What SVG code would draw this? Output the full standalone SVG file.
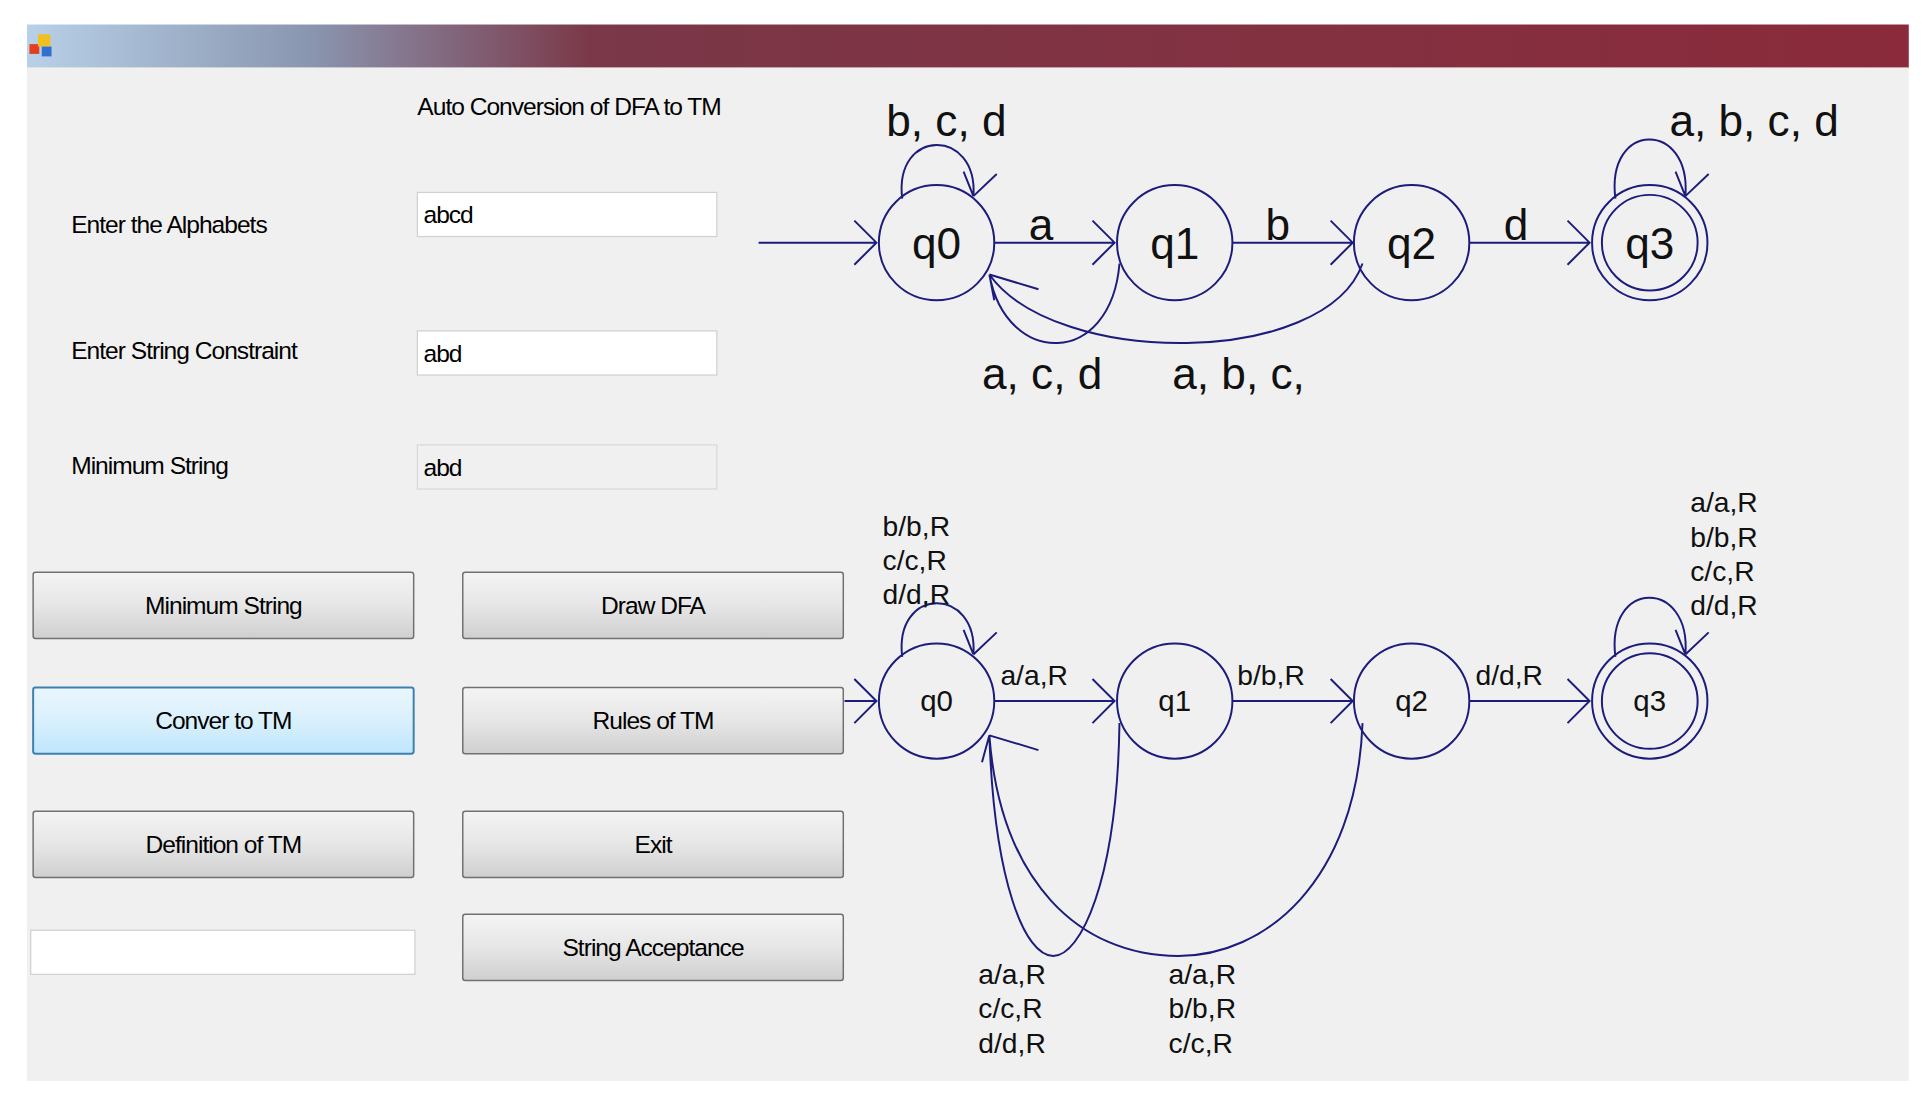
<svg xmlns="http://www.w3.org/2000/svg" width="1922" height="1103" viewBox="0 0 1922 1103">
<defs>
<linearGradient id="tb" x1="0" x2="1" y1="0" y2="0"><stop offset="0" stop-color="#b8d0e8"/><stop offset="0.15" stop-color="#8a96b0"/><stop offset="0.3" stop-color="#7a3848"/><stop offset="1" stop-color="#8a2a3a"/></linearGradient>
<linearGradient id="btn" x1="0" x2="0" y1="0" y2="1"><stop offset="0" stop-color="#f4f4f4"/><stop offset="0.5" stop-color="#e6e6e6"/><stop offset="1" stop-color="#cfcfcf"/></linearGradient>
<linearGradient id="btnf" x1="0" x2="0" y1="0" y2="1"><stop offset="0" stop-color="#eaf6fd"/><stop offset="0.5" stop-color="#d9f0fc"/><stop offset="1" stop-color="#bee6fd"/></linearGradient>
</defs>
<style>
.ui{font-family:"Liberation Sans",Arial,sans-serif;font-size:20px;fill:#000;letter-spacing:-0.8px}
.b{fill:url(#btn);stroke:#707070;stroke-width:1.2}
.tb{fill:#fff;stroke:#d0d0d0;stroke-width:1}
.st{fill:none;stroke:#1c1c7c;stroke-width:1.6}
.big{font-family:"Liberation Sans",Arial,sans-serif;font-size:36px;fill:#111}
.sm{font-family:"Liberation Sans",Arial,sans-serif;font-size:24px;fill:#111}
.lb{font-family:"Liberation Sans",Arial,sans-serif;font-size:36px;fill:#111}
.lt{font-family:"Liberation Sans",Arial,sans-serif;font-size:23px;fill:#111}
</style>
<rect width="1922" height="1103" fill="#fff"/>
<g transform="scale(1.2275 1.2256)">
<rect x="22" y="20" width="1533" height="36" fill="url(#tb)"/>
<rect x="22" y="55" width="1533" height="827" fill="#f0f0f0"/>
<g id="icon"><rect x="24" y="36" width="8" height="8" fill="#e04020"/><rect x="31" y="28" width="10" height="10" fill="#f0c020"/><rect x="34" y="38" width="8" height="8" fill="#3070d0"/></g>
<g id="form">
<text class="ui" x="340" y="94">Auto Conversion of DFA to TM</text>
<text class="ui" x="58" y="190">Enter the Alphabets</text>
<text class="ui" x="58" y="293">Enter String Constraint</text>
<text class="ui" x="58" y="387">Minimum String</text>
<rect class="tb" x="340" y="157" width="244" height="36"/><text class="ui" x="345" y="182">abcd</text>
<rect class="tb" x="340" y="270" width="244" height="36"/><text class="ui" x="345" y="295">abd</text>
<rect x="340" y="363" width="244" height="36" fill="#f0f0f0" stroke="#d8d8d8"/><text class="ui" x="345" y="388">abd</text>
<rect class="tb" x="25" y="759" width="313" height="36"/>
</g>
<g id="buttons" text-anchor="middle">
<rect class="b" x="27" y="467" width="310" height="54" rx="2"/><text class="ui" x="182" y="501">Minimum String</text>
<rect class="b" x="377" y="467" width="310" height="54" rx="2"/><text class="ui" x="532" y="501">Draw DFA</text>
<rect x="27" y="561" width="310" height="54" rx="2" fill="url(#btnf)" stroke="#3c7fb1" stroke-width="1.6"/><text class="ui" x="182" y="595">Conver to TM</text>
<rect class="b" x="377" y="561" width="310" height="54" rx="2"/><text class="ui" x="532" y="595">Rules of TM</text>
<rect class="b" x="27" y="662" width="310" height="54" rx="2"/><text class="ui" x="182" y="696">Definition of TM</text>
<rect class="b" x="377" y="662" width="310" height="54" rx="2"/><text class="ui" x="532" y="696">Exit</text>
<rect class="b" x="377" y="746" width="310" height="54" rx="2"/><text class="ui" x="532" y="780">String Acceptance</text>
</g>
<g id="connectors">
<path class="st" d="M618 198H714M696 180L714 198L696 216"/>
<path class="st" d="M810 198H908M890 180L908 198L890 216"/>
<path class="st" d="M1004 198H1102M1084 180L1102 198L1084 216"/>
<path class="st" d="M1197 198H1295M1277 180L1295 198L1277 216"/>
<path class="st" d="M735 162C728 104 797 104 793 160M793 160L812 142M793 160L785 140"/>
<path class="st" d="M1316 162C1308 98 1378 98 1373 160M1373 160L1392 142M1373 160L1365 140"/>
<path class="st" d="M912 215C905 300 820 300 806 224M1110 215C1080 300 860 300 806 224M806 224L846 236M806 224L810 245"/>
<path class="st" d="M688 572H714M696 554L714 572L696 590"/>
<path class="st" d="M810 572H908M890 554L908 572L890 590"/>
<path class="st" d="M1004 572H1102M1084 554L1102 572L1084 590"/>
<path class="st" d="M1197 572H1295M1277 554L1295 572L1277 590"/>
<path class="st" d="M735 536C728 478 797 478 793 534M793 534L812 516M793 534L785 514"/>
<path class="st" d="M1316 536C1308 472 1378 472 1373 534M1373 534L1392 516M1373 534L1365 514"/>
<path class="st" d="M912 590C910 720 880 780 858 780C835 780 810 720 806 600M1110 590C1105 720 1030 780 960 780C880 780 815 720 806 600M806 600L846 612M806 600L800 622"/>
</g>
<g id="dfa">
<circle class="st" cx="763" cy="198" r="47"/><text class="big" x="763" y="211" text-anchor="middle">q0</text>
<circle class="st" cx="957" cy="198" r="47"/><text class="big" x="957" y="211" text-anchor="middle">q1</text>
<circle class="st" cx="1150" cy="198" r="47"/><text class="big" x="1150" y="211" text-anchor="middle">q2</text>
<circle class="st" cx="1344" cy="198" r="47"/><circle class="st" cx="1344" cy="198" r="39"/><text class="big" x="1344" y="211" text-anchor="middle">q3</text>
<text class="lb" x="838" y="196">a</text><text class="lb" x="1031" y="196">b</text><text class="lb" x="1225" y="196">d</text>
<text class="lb" x="722" y="111">b, c, d</text><text class="lb" x="1360" y="111">a, b, c, d</text>
<text class="lb" x="800" y="317">a, c, d</text><text class="lb" x="955" y="317">a, b, c,</text>
</g>
<g id="tm">
<circle class="st" cx="763" cy="572" r="47"/><text class="sm" x="763" y="580" text-anchor="middle">q0</text>
<circle class="st" cx="957" cy="572" r="47"/><text class="sm" x="957" y="580" text-anchor="middle">q1</text>
<circle class="st" cx="1150" cy="572" r="47"/><text class="sm" x="1150" y="580" text-anchor="middle">q2</text>
<circle class="st" cx="1344" cy="572" r="47"/><circle class="st" cx="1344" cy="572" r="39"/><text class="sm" x="1344" y="580" text-anchor="middle">q3</text>
<text class="lt" x="815" y="559">a/a,R</text><text class="lt" x="1008" y="559">b/b,R</text><text class="lt" x="1202" y="559">d/d,R</text>
<text class="lt" x="719" y="437">b/b,R</text><text class="lt" x="719" y="465">c/c,R</text><text class="lt" x="719" y="493">d/d,R</text>
<text class="lt" x="1377" y="418">a/a,R</text><text class="lt" x="1377" y="446">b/b,R</text><text class="lt" x="1377" y="474">c/c,R</text><text class="lt" x="1377" y="502">d/d,R</text>
<text class="lt" x="797" y="803">a/a,R</text><text class="lt" x="797" y="831">c/c,R</text><text class="lt" x="797" y="859">d/d,R</text>
<text class="lt" x="952" y="803">a/a,R</text><text class="lt" x="952" y="831">b/b,R</text><text class="lt" x="952" y="859">c/c,R</text>
</g>
</g>
</svg>
